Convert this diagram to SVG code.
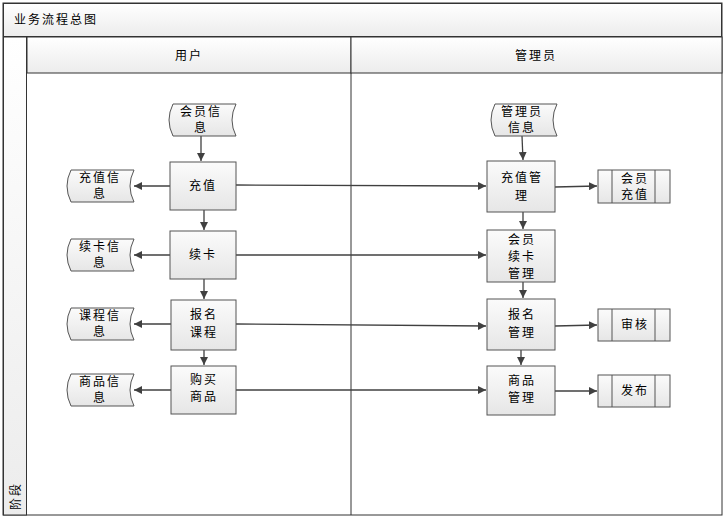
<svg xmlns="http://www.w3.org/2000/svg" width="727" height="519" viewBox="0 0 727 519">
<style>
text{font-family:"Noto Sans CJK SC","Liberation Sans",sans-serif;font-size:12px;fill:#000;text-anchor:middle;letter-spacing:2px}
.b{fill:url(#g);stroke:#555;stroke-width:1}
.ln{stroke:#404040;stroke-width:1.3;fill:none;marker-end:url(#a)}
.fr{fill:none;stroke:#333;stroke-width:1}
</style>
<defs>
<linearGradient id="g" x1="0" y1="0" x2="0" y2="1"><stop offset="0" stop-color="#fbfbfb"/><stop offset="1" stop-color="#e6e6e6"/></linearGradient>
<linearGradient id="h" x1="0" y1="0" x2="0" y2="1"><stop offset="0" stop-color="#ffffff"/><stop offset="1" stop-color="#ececec"/></linearGradient>
<marker id="a" viewBox="0 0 10 10" refX="10" refY="5" markerWidth="8" markerHeight="8" orient="auto" markerUnits="userSpaceOnUse"><path d="M0,0L10,5L0,10z" fill="#404040"/></marker>
</defs>
<rect x="0" y="0" width="727" height="519" fill="#fff"/>
<g id="frame">
<rect x="3" y="3" width="719" height="512" class="fr"/>
<rect x="3.5" y="3.5" width="718" height="33" fill="url(#h)" stroke="#333"/>
<text x="14" y="24" style="text-anchor:start">业务流程总图</text>
<rect x="3.5" y="37" width="23" height="478" fill="url(#h)" stroke="#333"/>
<text transform="translate(20,496) rotate(-90)" style="text-anchor:middle">阶段</text>
<rect x="27" y="37" width="324" height="36" fill="url(#h)" stroke="#333"/>
<rect x="351" y="37" width="371" height="36" fill="url(#h)" stroke="#333"/>
<text x="189" y="60">用户</text>
<text x="536" y="60">管理员</text>
<line x1="351" y1="73" x2="351" y2="515" stroke="#333"/>
</g>
<g id="connectors">
<line x1="201" y1="136" x2="201" y2="161" class="ln"/>
<line x1="204" y1="210" x2="204" y2="230" class="ln"/>
<line x1="204" y1="279" x2="204" y2="299" class="ln"/>
<line x1="204" y1="350" x2="204" y2="365" class="ln"/>
<line x1="170" y1="186" x2="134" y2="186" class="ln"/>
<line x1="170" y1="255" x2="134" y2="255" class="ln"/>
<line x1="171" y1="324" x2="134" y2="324" class="ln"/>
<line x1="171" y1="390" x2="134" y2="390" class="ln"/>
<line x1="236" y1="185" x2="486" y2="186" class="ln"/>
<line x1="236" y1="255" x2="486" y2="255" class="ln"/>
<line x1="236" y1="324" x2="486" y2="326" class="ln"/>
<line x1="236" y1="390" x2="486" y2="390" class="ln"/>
<line x1="522" y1="136" x2="523" y2="160" class="ln"/>
<line x1="523" y1="212" x2="523" y2="229" class="ln"/>
<line x1="523" y1="282" x2="523" y2="298" class="ln"/>
<line x1="521" y1="350" x2="521" y2="365" class="ln"/>
<line x1="555" y1="187" x2="597" y2="186" class="ln"/>
<line x1="555" y1="326" x2="597" y2="325" class="ln"/>
<line x1="555" y1="391" x2="597" y2="391" class="ln"/>
</g>
<g id="n_hyxx"><path class="b" d="M173,104H236Q228,120 236,136H173Q165,120 173,104Z"/><text x="201" y="116">会员信</text><text x="201" y="132">息</text></g>
<g id="n_cz"><rect class="b" x="170" y="162" width="66" height="48"/><text x="203" y="190">充值</text></g>
<g id="n_xk"><rect class="b" x="170" y="231" width="66" height="48"/><text x="203" y="259">续卡</text></g>
<g id="n_bmkc"><rect class="b" x="171" y="300" width="65" height="50"/><text x="204" y="319">报名</text><text x="204" y="337">课程</text></g>
<g id="n_gmsp"><rect class="b" x="171" y="366" width="65" height="48"/><text x="204" y="384">购买</text><text x="204" y="401">商品</text></g>
<g id="n_czxx"><path class="b" d="M71,170H134Q126,186 134,202H71Q63,186 71,170Z"/><text x="100" y="182">充值信</text><text x="100" y="198">息</text></g>
<g id="n_xkxx"><path class="b" d="M71,239H134Q126,255 134,271H71Q63,255 71,239Z"/><text x="100" y="251">续卡信</text><text x="100" y="267">息</text></g>
<g id="n_kcxx"><path class="b" d="M71,308H134Q126,324 134,340H71Q63,324 71,308Z"/><text x="100" y="320">课程信</text><text x="100" y="336">息</text></g>
<g id="n_spxx"><path class="b" d="M71,374H134Q126,390 134,406H71Q63,390 71,374Z"/><text x="100" y="386">商品信</text><text x="100" y="402">息</text></g>
<g id="n_glyxx"><path class="b" d="M495,104H557Q549,120 557,136H495Q487,120 495,104Z"/><text x="522" y="116">管理员</text><text x="522" y="132">信息</text></g>
<g id="n_czgl"><rect class="b" x="487" y="161" width="68" height="51"/><text x="522" y="182">充值管</text><text x="522" y="200">理</text></g>
<g id="n_xkgl"><rect class="b" x="487" y="230" width="68" height="52"/><text x="522" y="244">会员</text><text x="522" y="261">续卡</text><text x="522" y="278">管理</text></g>
<g id="n_bmgl"><rect class="b" x="487" y="299" width="68" height="51"/><text x="522" y="319">报名</text><text x="522" y="337">管理</text></g>
<g id="n_spgl"><rect class="b" x="487" y="366" width="68" height="49"/><text x="522" y="385">商品</text><text x="522" y="402">管理</text></g>
<g id="n_hycz"><rect class="b" x="598" y="170" width="72" height="33"/><line x1="612" y1="170" x2="612" y2="203" stroke="#555"/><line x1="655" y1="170" x2="655" y2="203" stroke="#555"/><text x="635" y="183">会员</text><text x="635" y="199">充值</text></g>
<g id="n_sh"><rect class="b" x="598" y="309" width="72" height="32"/><line x1="612" y1="309" x2="612" y2="341" stroke="#555"/><line x1="655" y1="309" x2="655" y2="341" stroke="#555"/><text x="635" y="329">审核</text></g>
<g id="n_fb"><rect class="b" x="598" y="375" width="72" height="32"/><line x1="612" y1="375" x2="612" y2="407" stroke="#555"/><line x1="655" y1="375" x2="655" y2="407" stroke="#555"/><text x="635" y="395">发布</text></g>
</svg>
